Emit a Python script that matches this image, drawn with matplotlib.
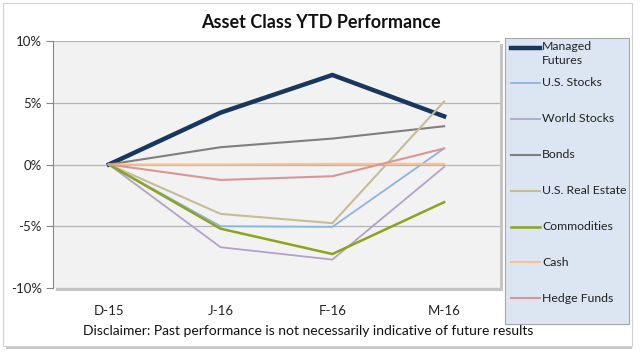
import matplotlib.pyplot as plt
from matplotlib.patches import Rectangle
from matplotlib.lines import Line2D

plt.rcParams['font.family'] = ['Lato', 'DejaVu Sans']

# --------------------------------------------------
# DATA
# --------------------------------------------------
months = ["D-15", "J-16", "F-16", "M-16"]
managed_futures = [0.0, 4.2, 7.25, 3.9]
us_stocks = [0.0, -5.0, -5.05, 1.3]
world_stocks = [0.0, -6.7, -7.7, -0.2]
bonds = [0.0, 1.4, 2.1, 3.1]
us_real_estate = [0.0, -4.0, -4.75, 5.1]
commodities = [0.0, -5.2, -7.25, -3.05]
cash = [0.0, 0.0, 0.05, 0.05]
hedge_funds = [0.0, -1.25, -0.95, 1.3]

series = [
    ("Managed\nFutures", managed_futures, "#17375e", 3.2),
    ("U.S. Stocks", us_stocks, "#8db3e2", 1.3),
    ("World Stocks", world_stocks, "#b3a2c7", 1.3),
    ("Bonds", bonds, "#7f7f7f", 1.5),
    ("U.S. Real Estate", us_real_estate, "#c4bd97", 1.5),
    ("Commodities", commodities, "#8ea21c", 1.8),
    ("Cash", cash, "#fac090", 1.5),
    ("Hedge Funds", hedge_funds, "#d99694", 1.5),
]

W, H = 640, 356
fig = plt.figure(figsize=(W / 100, H / 100), dpi=100)
fig.patch.set_facecolor("white")


def fx(px):
    return px / W


def fy(py):
    return 1 - py / H


# outer chart frame with shadow
fig.add_artist(Rectangle((fx(6), fy(349)), fx(629) - fx(3), fy(3) - fy(346),
                         transform=fig.transFigure, facecolor="#c8c8c8",
                         edgecolor="none", zorder=-3))
fig.add_artist(Rectangle((fx(3), fy(346)), fx(632) - fx(3), fy(3) - fy(346),
                         transform=fig.transFigure, facecolor="white",
                         edgecolor="#d0d0d0", lw=0.8, zorder=-2))

# plot area shadow
fig.add_artist(Rectangle((fx(56), fy(291)), fx(500) - fx(53), fy(41) - fy(288),
                         transform=fig.transFigure, facecolor="#c4c4c4",
                         edgecolor="none", zorder=-1))

ax = fig.add_axes([fx(53), fy(288), fx(500) - fx(53), fy(41) - fy(288)])
ax.set_zorder(1)
ax.set_facecolor("#f2f2f2")

x = range(len(months))
for label, vals, color, lw in series:
    ax.plot(x, vals, color=color, lw=lw, solid_joinstyle="miter", zorder=3)

ax.set_xlim(-0.5, 3.5)
ax.set_ylim(-10, 10)
ax.set_yticks([-10, -5, 0, 5, 10])
ax.set_yticklabels(["-10%", "-5%", "0%", "5%", "10%"])
ax.set_xticks(list(x))
ax.set_xticklabels(months)
ax.yaxis.grid(True, color="#b4b4b4", lw=0.9)
ax.set_axisbelow(True)
for side in ["top", "right", "bottom"]:
    ax.spines[side].set_visible(False)
ax.spines["left"].set_color("#868686")
ax.tick_params(axis="y", length=5, color="#868686", labelsize=9.5,
               labelcolor="#222222", pad=3)
ax.tick_params(axis="x", length=0, labelsize=9.5, labelcolor="#222222", pad=12)

fig.text(fx(321), fy(22), "Asset Class YTD Performance", ha="center",
         va="center", fontsize=13, fontweight="bold", color="#111111")
fig.text(fx(308), fy(331),
         "Disclaimer: Past performance is not necessarily indicative of future results",
         ha="center", va="center", fontsize=10, color="#111111")

# legend box (drawn by hand to match the spacing)
fig.add_artist(Rectangle((fx(505), fy(324)), fx(629) - fx(505), fy(38) - fy(324),
                         transform=fig.transFigure, facecolor="#dce6f2",
                         edgecolor="#a6a6a6", lw=0.8, zorder=2))
legend_y = [48, 83, 119, 155, 191, 227, 262, 298]
for (label, vals, color, lw), ly in zip(series, legend_y):
    fig.add_artist(Line2D([fx(511), fx(540)], [fy(ly), fy(ly)],
                          transform=fig.transFigure, color=color, lw=lw,
                          zorder=3))
    if "\n" in label:
        fig.text(fx(542), fy(ly - 7), label, ha="left", va="top",
                 fontsize=8.8, color="#222222", linespacing=1.35, zorder=3)
    else:
        fig.text(fx(542), fy(ly), label, ha="left", va="center",
                 fontsize=8.8, color="#222222", zorder=3)

fig.savefig("out.png", dpi=100)
